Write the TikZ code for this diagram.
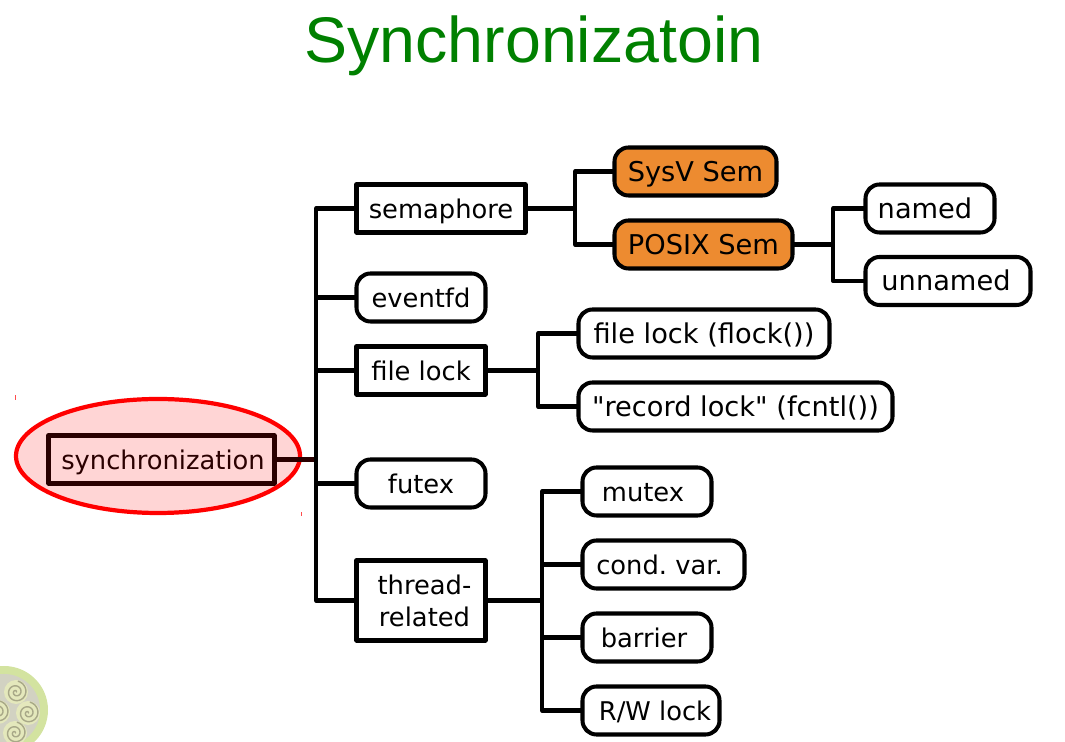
\documentclass[tikz,border=0pt]{standalone}
\usepackage{fontspec}
\setmainfont{DejaVu Sans}
\newfontfamily\titlefont{Liberation Sans}
\newfontfamily\quotefont{DejaVu Sans}[Ligatures=ResetAll]
\newcommand{\straightq}{{\quotefont\symbol{34}}}
\definecolor{hotorange}{HTML}{ED8B30}
\definecolor{selpink}{HTML}{FFD5D5}
\definecolor{seldark}{HTML}{2A0000}
\definecolor{titlegreen}{HTML}{008000}
\definecolor{fernring}{HTML}{D3E3A0}
\definecolor{fernin}{HTML}{D2D2C2}
\definecolor{fernleaf}{HTML}{E4E8BC}
\definecolor{ferndark}{HTML}{A8A888}
\begin{document}
\begin{tikzpicture}[inner sep=0pt,outer sep=0pt,line width=1.15pt,line join=round,
lab/.style={font=\fontsize{7.33pt}{9.1pt}\selectfont,align=center,text height=7.2pt,text depth=1.6pt},
biglab/.style={font=\fontsize{7.75pt}{9.1pt}\selectfont},
sqblock/.style={draw,rectangle,lab,minimum height=.48cm},
rdblock/.style={draw,rectangle,rounded corners=.14cm,lab,minimum height=.48cm},
hotblock/.style={rdblock,biglab,fill=hotorange}]
\useasboundingbox (0,0) rectangle (10.65,7.42);

% fern logo
\begin{scope}
\clip (0,0) rectangle (.6,.9);
\fill[fernring] (.04,.32) circle (.44);
\fill[fernin] (.04,.32) circle (.36);
\foreach \cx/\cy in {.16/.50,.28/.29,.15/.09,-.02/.30} {
\fill[fernleaf] (\cx,\cy) circle (.12);
\draw[ferndark,thin,domain=0:800,samples=60,smooth] plot ({\cx+.00014*\x*cos(\x)},{\cy+.00014*\x*sin(\x)});
}
\end{scope}

\draw (5.34,6.79) node[anchor=base,font=\fontsize{18.35pt}{22pt}\titlefont,text=titlegreen] (title) {Synchronizatoin};

% selected topic
\draw[red,line width=1.2pt,fill=selpink] (1.58,2.86) ellipse (1.42 and .57);
\fill[red!70] (.15,3.42) rectangle (.165,3.47);
\fill[red!70] (3.005,2.26) rectangle (3.02,2.30);
\draw (1.615,2.825) node[sqblock,draw=seldark,text=seldark,minimum width=2.26cm] (sync) {\hspace*{.03cm}synchronization};

% first level
\draw (4.41,5.335) node[sqblock,minimum width=1.69cm] (semaphore) {semaphore};
\draw (4.21,4.445) node[rdblock,minimum width=1.29cm] (eventfd) {eventfd};
\draw (4.21,3.715) node[sqblock,minimum width=1.29cm] (filelock) {file lock};
\draw (4.21,2.585) node[rdblock,minimum width=1.29cm] (futex) {futex};
\draw (4.21,1.415) node[sqblock,text height=,text depth=,minimum width=1.29cm,minimum height=.80cm] (thread) {\hspace*{.07cm}thread-\\\hspace*{.07cm}related};

% second level
\draw (6.955,5.705) node[hotblock,minimum width=1.62cm] (sysv) {SysV Sem};
\draw (7.035,4.975) node[hotblock,minimum width=1.78cm] (posix) {POSIX Sem};
\draw (9.30,5.335) node[rdblock,biglab,minimum width=1.29cm] (named) {named\hspace*{.1cm}};
\draw (9.48,4.61) node[rdblock,biglab,minimum width=1.65cm] (unnamed) {unnamed\hspace*{.04cm}};
\draw (7.04,4.085) node[rdblock,biglab,minimum width=2.51cm] (flock) {file lock (flock())};
\draw (7.355,3.355) node[rdblock,biglab,minimum width=3.14cm] (record) {\straightq record lock\straightq{} (fcntl())};
\draw (6.47,2.505) node[rdblock,minimum width=1.29cm] (mutex) {mutex\hspace*{.08cm}};
\draw (6.635,1.775) node[rdblock,minimum width=1.62cm] (condvar) {cond.~var.\hspace*{.08cm}};
\draw (6.47,1.045) node[rdblock,minimum width=1.29cm] (barrier) {barrier\hspace*{.06cm}};
\draw (6.51,.315) node[rdblock,minimum width=1.37cm] (rwlock) {\hspace*{.08cm}R/W lock};

% junctions
\coordinate (trunk) at (3.16,2.825);
\coordinate (semfork) at (5.75,5.335);
\coordinate (posixfork) at (8.33,4.975);
\coordinate (lockfork) at (5.38,3.715);
\coordinate (threadfork) at (5.42,1.415);

\draw[seldark] (sync.east) -- (trunk);
\foreach \n in {semaphore,eventfd,filelock,futex,thread} \draw (trunk) |- (\n.west);
\draw (semaphore.east) -- (semfork);
\foreach \n in {sysv,posix} \draw (semfork) |- (\n.west);
\draw (posix.east) -- (posixfork);
\foreach \n in {named,unnamed} \draw (posixfork) |- (\n.west);
\draw (filelock.east) -- (lockfork);
\foreach \n in {flock,record} \draw (lockfork) |- (\n.west);
\draw (thread.east) -- (threadfork);
\foreach \n in {mutex,condvar,barrier,rwlock} \draw (threadfork) |- (\n.west);
\end{tikzpicture}
\end{document}
